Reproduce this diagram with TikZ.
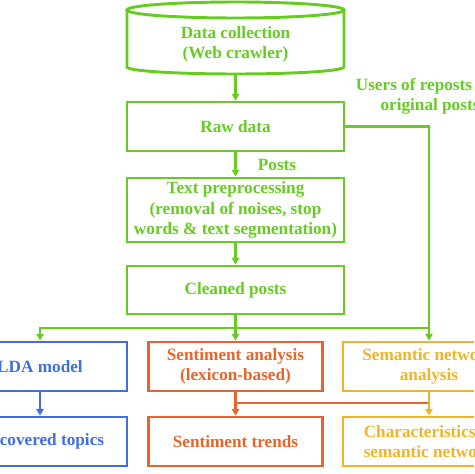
\documentclass[tikz,border=0pt]{standalone}
\usepackage{fontspec}
\setmainfont{Liberation Serif}
\usetikzlibrary{arrows.meta}
\definecolor{cgreen}{HTML}{66CC22}
\definecolor{cblue}{HTML}{3F6FE0}
\definecolor{corange}{HTML}{E9642A}
\definecolor{cyellow}{HTML}{F2B427}
\tikzset{
  box/.style={draw, line width=2.2pt, rectangle, align=center, inner sep=0pt,
    font=\fontsize{12.9}{15.2}\selectfont\bfseries},
  gbox/.style={box, draw=cgreen, text=cgreen, minimum width=217*0.75pt},
  bbox/.style={box, draw=cblue, text=cblue, minimum width=174*0.75pt, minimum height=49*0.75pt},
  obox/.style={box, draw=corange, text=corange, minimum width=174*0.75pt, minimum height=49*0.75pt},
  ybox/.style={box, draw=cyellow, text=cyellow, minimum width=172*0.75pt, minimum height=49*0.75pt},
  conn/.style={line width=1.8pt},
  arr/.style={conn, -{Triangle[width=5.5pt,length=5pt]}},
  lbl/.style={font=\fontsize{12.9}{15.2}\selectfont\bfseries, text=cgreen, align=center, inner sep=0pt}
}
\begin{document}
\begin{tikzpicture}[x=0.75pt,y=-0.75pt]
\useasboundingbox (0,0) rectangle (474,474);
\clip (0,0) rectangle (474,474);
% cylinder
\draw[cgreen, line width=2.2pt] (127,10) -- (127,67) arc[x radius=108.5, y radius=7, start angle=180, end angle=0] -- (344,10);
\draw[cgreen, line width=2.2pt] (235.5,10) ellipse[x radius=108.5, y radius=8];
\node[lbl] (dc) at (235.5,44) {Data collection\\(Web crawler)};
\coordinate (dcb) at (235.5,74);
% green boxes
\node[gbox, minimum height=49*0.75pt] (raw) at (235.5,126.5) {Raw data};
\node[gbox, minimum height=64*0.75pt] (pre) at (235.5,210) {Text preprocessing\\(removal of noises, stop\\words \& text segmentation)};
\node[gbox, minimum height=48*0.75pt] (clean) at (235.5,290) {Cleaned posts};
% second row
\node[bbox] (lda) at (40,366.5) {LDA model};
\node[obox] (sent) at (235.5,366.5) {Sentiment analysis\\(lexicon-based)};
\node[ybox] (sem) at (429,366.5) {Semantic network\\analysis};
% third row
\node[bbox] (disc) at (40,441.5) {Discovered topics};
\node[obox] (trend) at (235.5,441.5) {Sentiment trends};
\node[ybox] (char) at (429,441.5) {Characteristics of\\semantic network};
% labels
\node[lbl] (posts) at (277,165) {Posts};
\node[lbl] (users) at (430,96.5) {Users of reposts and\\original posts};
% green connectors
\draw[arr, cgreen] (dcb) -- (raw.north);
\draw[arr, cgreen] (raw.south) -- (pre.north);
\draw[arr, cgreen] (pre.south) -- (clean.north);
\coordinate (br) at (235.5,328);
\draw[conn, cgreen] (clean.south) -- (br);
\draw[conn, cgreen] (br) -- (br -| sem.north);
\draw[arr, cgreen] (br) -- (sent.north);
\draw[arr, cgreen] (br) -| (lda.north);
\draw[arr, cgreen] (raw.east) -| (sem.north);
% blue
\draw[arr, cblue] (lda.south) -- (disc.north);
% orange
\coordinate (ob) at (235.5,403);
\draw[conn, corange] (sent.south) -- (ob);
\draw[conn, corange] (ob) -- (ob -| sem.south);
\draw[arr, corange] (ob) -- (trend.north);
% yellow
\draw[arr, cyellow] (sem.south) -- (char.north);
\end{tikzpicture}
\end{document}
